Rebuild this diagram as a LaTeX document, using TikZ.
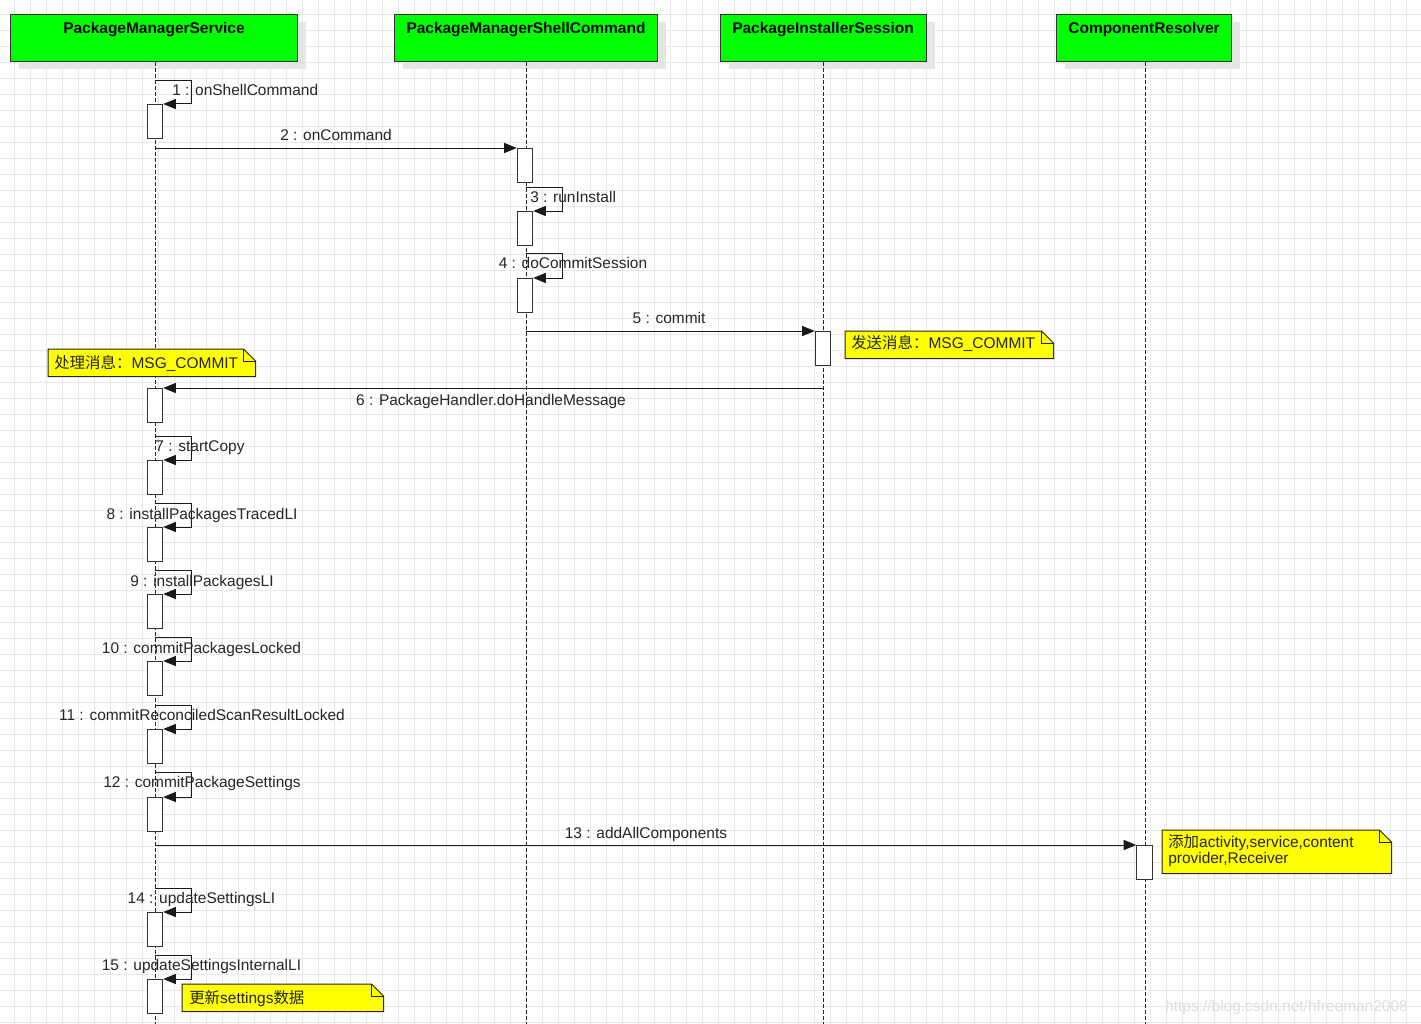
\documentclass[tikz,border=0pt]{standalone}
\usepackage{fontspec}
\setmainfont{Liberation Sans}
\newfontfamily\cjk{Noto Sans CJK SC}
\usetikzlibrary{arrows.meta,shadows}
\definecolor{hgreen}{HTML}{00FF00}
\definecolor{nyellow}{HTML}{FFFF00}
\definecolor{txt}{HTML}{262626}
\newcommand\dogear[1]{%
  \fill[nyellow] (#1.north west) -- ([xshift=-9pt]#1.north east) -- ([yshift=-9pt]#1.north east) -- (#1.south east) -- (#1.south west) -- cycle;
  \draw[notedraw] (#1.north west) -- ([xshift=-9pt]#1.north east) -- ([yshift=-9pt]#1.north east) -- (#1.south east) -- (#1.south west) -- cycle;
  \draw[notedraw] ([xshift=-9pt]#1.north east) -- ([xshift=-9pt,yshift=-9pt]#1.north east) -- ([yshift=-9pt]#1.north east);}
\begin{document}
\begin{tikzpicture}[x=0.75pt,y=-0.75pt,
  font=\fontsize{11.6}{12}\selectfont,
  gridl/.style={draw=black!9, line width=0.5pt},
  head/.style={draw=black!80, fill=hgreen, line width=0.75pt, inner sep=0, anchor=north west,
     general shadow={fill=black!10, shadow xshift=6pt, shadow yshift=-6pt}},
  headtxt/.style={anchor=base, inner sep=0, font=\fontsize{11.6}{12}\selectfont\bfseries},
  act/.style={draw=black!80, fill=white, line width=0.75pt, minimum width=11.5pt, minimum height=25.5pt, inner sep=0, anchor=north},
  msg/.style={-{Triangle[length=9.5pt,width=7.5pt]}, line width=0.75pt, draw=black!90},
  life/.style={dash pattern=on 3pt off 1.5pt, line width=0.75pt, draw=black!85},
  lbl/.style={anchor=base, inner sep=0, text=txt},
  lblw/.style={anchor=base west, inner sep=0, text=txt},
  notedraw/.style={draw=black!85, line width=0.75pt},
  notebox/.style={inner sep=0, anchor=north west},
  notetxt/.style={anchor=base west, inner sep=0, text=txt, align=left}
]
\useasboundingbox (0,0) rectangle (1421,1024);
\fill[white] (0,0) rectangle (1421,1024);
% grid
\foreach \i in {14,30,...,1421} \draw[gridl] (\i,0) -- (\i,1024);
\foreach \j in {14,30,...,1024} \draw[gridl] (0,\j) -- (1421,\j);
% watermark
\node[anchor=base west, inner sep=0, text=black!13] (wm) at (1165,1011) {https://blog.csdn.net/hfreeman2008};
% headers
\node[head, minimum width=215.25pt, minimum height=35.25pt] (h1) at (10,14) {};
\node[head, minimum width=197.25pt, minimum height=35.25pt] (h2) at (394,14) {};
\node[head, minimum width=154.5pt, minimum height=35.25pt] (h3) at (720,14) {};
\node[head, minimum width=131.25pt, minimum height=35.25pt] (h4) at (1056,14) {};
\node[headtxt] (t1) at (154,34) {PackageManagerService};
\node[headtxt] (t2) at (526,34) {PackageManagerShellCommand};
\node[headtxt] (t3) at (823,34) {PackageInstallerSession};
\node[headtxt] (t4) at (1144,34) {ComponentResolver};
% lifeline ends
\coordinate (e1) at (155,1024);
\coordinate (e2) at (526,1024);
\coordinate (e3) at (823,1024);
\coordinate (e4) at (1145,1024);
\draw[life] (h1.south -| e1) -- (e1);
\draw[life] (h2.south -| e2) -- (e2);
\draw[life] (h3.south -| e3) -- (e3);
\draw[life] (h4.south -| e4) -- (e4);
% activation boxes
\node[act] (b1) at (155,104) {};
\node[act] (b2) at (525,148) {};
\node[act] (b3) at (525,211) {};
\node[act] (b4) at (525,278) {};
\node[act] (b5) at (823,331) {};
\node[act] (b6) at (155,388) {};
\node[act] (b7) at (155,460) {};
\node[act] (b8) at (155,527) {};
\node[act] (b9) at (155,594) {};
\node[act] (b10) at (155,661) {};
\node[act] (b11) at (155,729) {};
\node[act] (b12) at (155,797) {};
\node[act] (b13) at (1144.5,845) {};
\node[act] (b14) at (155,912) {};
\node[act] (b15) at (155,979) {};
% message start points
\coordinate (s1) at (155,81);
\coordinate (s2) at (155,148);
\coordinate (s3) at (526,187);
\coordinate (s4) at (526,253);
\coordinate (s5) at (526,331);
\coordinate (s6) at (823,388);
\coordinate (s7) at (155,436);
\coordinate (s8) at (155,503);
\coordinate (s9) at (155,570);
\coordinate (s10) at (155,637);
\coordinate (s11) at (155,705);
\coordinate (s12) at (155,772);
\coordinate (s13) at (155,845);
\coordinate (s14) at (155,888);
\coordinate (s15) at (155,955);
% messages
\draw[msg] (s1) -- ++(36,0) |- (b1.north east);
\draw[msg] (s2) -- (b2.north west);
\draw[msg] (s3) -- ++(36,0) |- (b3.north east);
\draw[msg] (s4) -- ++(36,0) |- (b4.north east);
\draw[msg] (s5) -- (b5.north west);
\draw[msg] (s6) -- (b6.north east);
\foreach \k in {7,8,9,10,11,12,14,15} \draw[msg] (s\k) -- ++(36,0) |- (b\k.north east);
\draw[msg] (s13) -- (b13.north west);
% labels
\node[lblw] (l1) at (172,96) {1 : onShellCommand};
\node[lbl] (l2) at (336,141) {2 : onCommand};
\node[lblw] (l3) at (530,202) {3 : runInstall};
\node[lbl] (l4) at (573,268) {4 : doCommitSession};
\node[lbl] (l5) at (669,323) {5 : commit};
\node[lbl] (l6) at (491,405) {6 : PackageHandler.doHandleMessage};
\node[lbl] (l7) at (200,451) {7 : startCopy};
\node[lbl] (l8) at (202,519) {8 : installPackagesTracedLI};
\node[lbl] (l9) at (202,586) {9 : installPackagesLI};
\node[lbl] (l10) at (201.5,653) {10 : commitPackagesLocked};
\node[lbl] (l11) at (202,720) {11 : commitReconciledScanResultLocked};
\node[lbl] (l12) at (202,787) {12 : commitPackageSettings};
\node[lbl] (l13) at (646,838) {13 : addAllComponents};
\node[lbl] (l14) at (201.5,903) {14 : updateSettingsLI};
\node[lbl] (l15) at (201.5,970) {15 : updateSettingsInternalLI};
% notes
\node[notebox, minimum width=155.25pt, minimum height=20.25pt] (n1) at (48,349) {};
\dogear{n1}
\node[notetxt] (n1t) at (54,368) {{\cjk 处理消息：}MSG\_COMMIT};
\node[notebox, minimum width=156pt, minimum height=20.25pt] (n2) at (845,331) {};
\dogear{n2}
\node[notetxt] (n2t) at (851,348) {{\cjk 发送消息：}MSG\_COMMIT};
\node[notebox, minimum width=171.75pt, minimum height=32.25pt] (n3) at (1162,830) {};
\dogear{n3}
\node[notetxt] (n3t) at (1168,847.5) {{\cjk 添加}activity,service,content};
\node[notetxt] (n3u) at (1168,863.5) {provider,Receiver};
\node[notebox, minimum width=150.75pt, minimum height=20.25pt] (n4) at (182,984) {};
\dogear{n4}
\node[notetxt] (n4t) at (189,1003) {{\cjk 更新}settings{\cjk 数据}};
\end{tikzpicture}
\end{document}
